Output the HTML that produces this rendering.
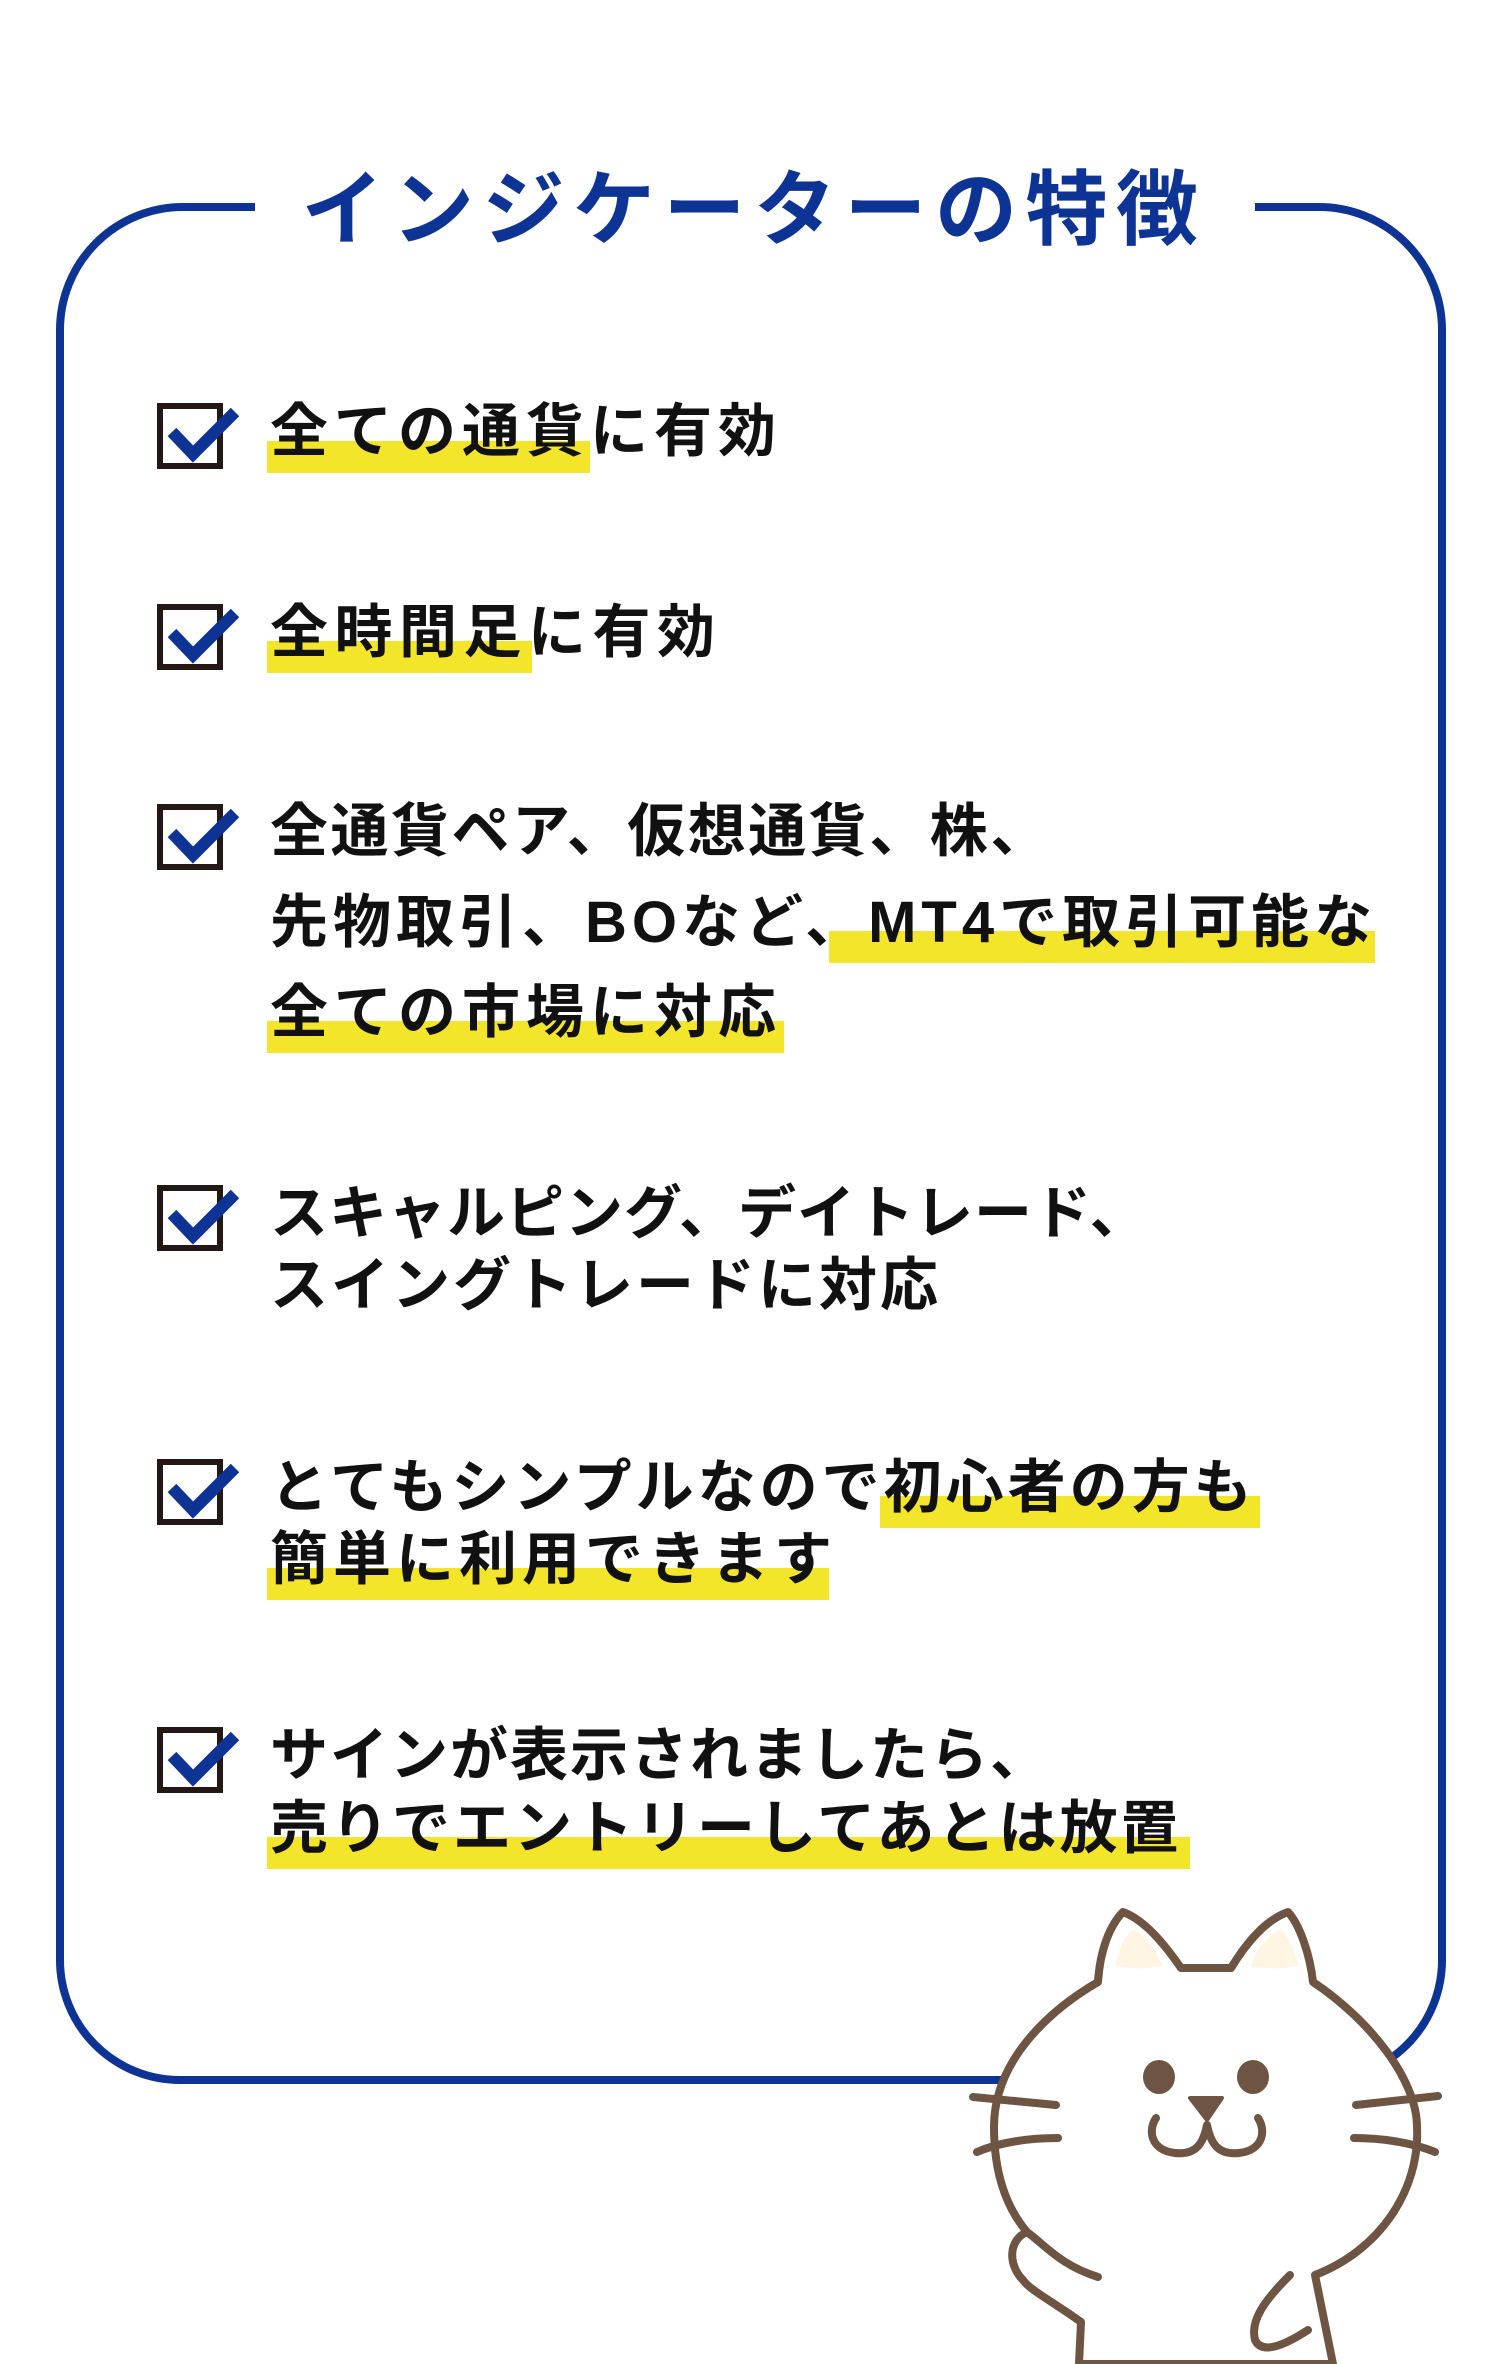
<!DOCTYPE html>
<html><head><meta charset="utf-8"><style>
html,body{margin:0;padding:0;background:#fff}
body{width:1500px;height:2364px;position:relative;overflow:hidden;font-family:"Liberation Sans","Noto Sans CJK JP",sans-serif}
.t{position:absolute;left:270px;font-size:58px;line-height:58px;font-weight:bold;color:#111;white-space:nowrap}
.h{position:absolute;background:#f3e62a;height:32px}
.title{position:absolute;left:0;width:1500px;top:168px;text-align:center;font-size:82px;line-height:86px;font-weight:bold;color:#0d3494;letter-spacing:8.5px;text-indent:8px}
</style></head><body>
<svg width="1500" height="2364" style="position:absolute;left:0;top:0">
<path d="M255,207 H183 A123,123 0 0 0 60,330 V1960 A120,120 0 0 0 180,2080 H1322 A120,120 0 0 0 1442,1960 V330 A123,123 0 0 0 1319,207 H1255" fill="none" stroke="#0d3494" stroke-width="8"/>
</svg>
<div class="title">インジケーターの特徴</div>

<div class="h" style="left:267px;top:441px;width:323px"></div>
<div class="h" style="left:267px;top:641px;width:265px"></div>
<div class="h" style="left:829px;top:931px;width:546px"></div>
<div class="h" style="left:267px;top:1021px;width:517px"></div>
<div class="h" style="left:880px;top:1496px;width:380px"></div>
<div class="h" style="left:267px;top:1568px;width:562px"></div>
<div class="h" style="left:267px;top:1837px;width:923px"></div>

<div class="t" style="top:403px;letter-spacing:6px">全ての通貨に有効</div>
<div class="t" style="top:604px;letter-spacing:6.5px">全時間足に有効</div>
<div class="t" style="top:803px;letter-spacing:2.5px">全通貨ペア、仮想通貨、株、</div>
<div class="t" style="top:894px;letter-spacing:5px">先物取引、BOなど、MT4で取引可能な</div>
<div class="t" style="top:984px;letter-spacing:6px">全ての市場に対応</div>
<div class="t" style="top:1185px;letter-spacing:1px">スキャルピング、デイトレード、</div>
<div class="t" style="top:1257px;letter-spacing:3px">スイングトレードに対応</div>
<div class="t" style="top:1459px;letter-spacing:4px">とてもシンプルなので初心者の方も</div>
<div class="t" style="top:1531px;letter-spacing:5px">簡単に利用できます</div>
<div class="t" style="top:1727px;letter-spacing:2px">サインが表示されましたら、</div>
<div class="t" style="top:1800px;letter-spacing:3px">売りでエントリーしてあとは放置</div>

<svg width="1500" height="2364" style="position:absolute;left:0;top:0">
<defs><g id="cb"><rect x="3" y="3" width="60" height="60" fill="#fff" stroke="#231815" stroke-width="6"/><polyline points="15,29 36,51 78,9" fill="none" stroke="#0d3494" stroke-width="12"/></g></defs>
<use href="#cb" x="157" y="403"/>
<use href="#cb" x="157" y="604"/>
<use href="#cb" x="157" y="804"/>
<use href="#cb" x="157" y="1185"/>
<use href="#cb" x="157" y="1459"/>
<use href="#cb" x="157" y="1727"/>
<g fill="#fff" stroke="#6e5442" stroke-width="8" stroke-linecap="round" stroke-linejoin="round">
<path d="M1079,2364 L1081,2322 C1050,2300 1030,2290 1023,2280 C1008,2265 1008,2240 1027,2232 C1000,2200 994,2160 994,2127 C994,2060 1050,2010 1098,1982 C1100,1950 1110,1925 1123,1912 C1145,1920 1165,1945 1181,1968 L1231,1968 C1245,1945 1265,1920 1288,1912 C1300,1925 1310,1955 1313,1982 C1370,2020 1417,2080 1417,2127 C1420,2190 1380,2250 1315,2275 L1333,2364 Z"/>
</g>
<path d="M1115,1965 C1120,1945 1128,1930 1135,1930 C1150,1940 1160,1955 1162,1967 C1145,1968 1130,1970 1115,1965 Z" fill="#fff5e3"/>
<path d="M1298,1965 C1293,1945 1285,1930 1278,1930 C1263,1940 1253,1955 1251,1967 C1268,1968 1283,1970 1298,1965 Z" fill="#fff5e3"/>
<g fill="none" stroke="#6e5442" stroke-width="8" stroke-linecap="round" stroke-linejoin="round">
<path d="M1027,2232 C1045,2245 1060,2265 1098,2277"/>
<path d="M1290,2275 C1265,2300 1250,2320 1255,2340 C1262,2355 1285,2345 1308,2330"/>
<path d="M973,2097 L1056,2105 M977,2152 C1000,2142 1030,2138 1058,2138 M1438,2096 L1356,2105 M1435,2152 C1410,2142 1380,2138 1354,2138"/>
<path d="M1156,2118 C1148,2130 1150,2150 1175,2153 C1195,2155 1203,2145 1207,2125 C1211,2145 1219,2155 1239,2153 C1264,2150 1266,2130 1258,2118"/>
</g>
<g fill="#6e5442">
<ellipse cx="1159" cy="2077" rx="16" ry="17"/>
<ellipse cx="1253" cy="2077" rx="16" ry="17"/>
<path d="M1190,2098 L1222,2098 L1207,2120 Z" stroke="#6e5442" stroke-width="4" stroke-linejoin="round"/>
</g>
</svg>
</body></html>
